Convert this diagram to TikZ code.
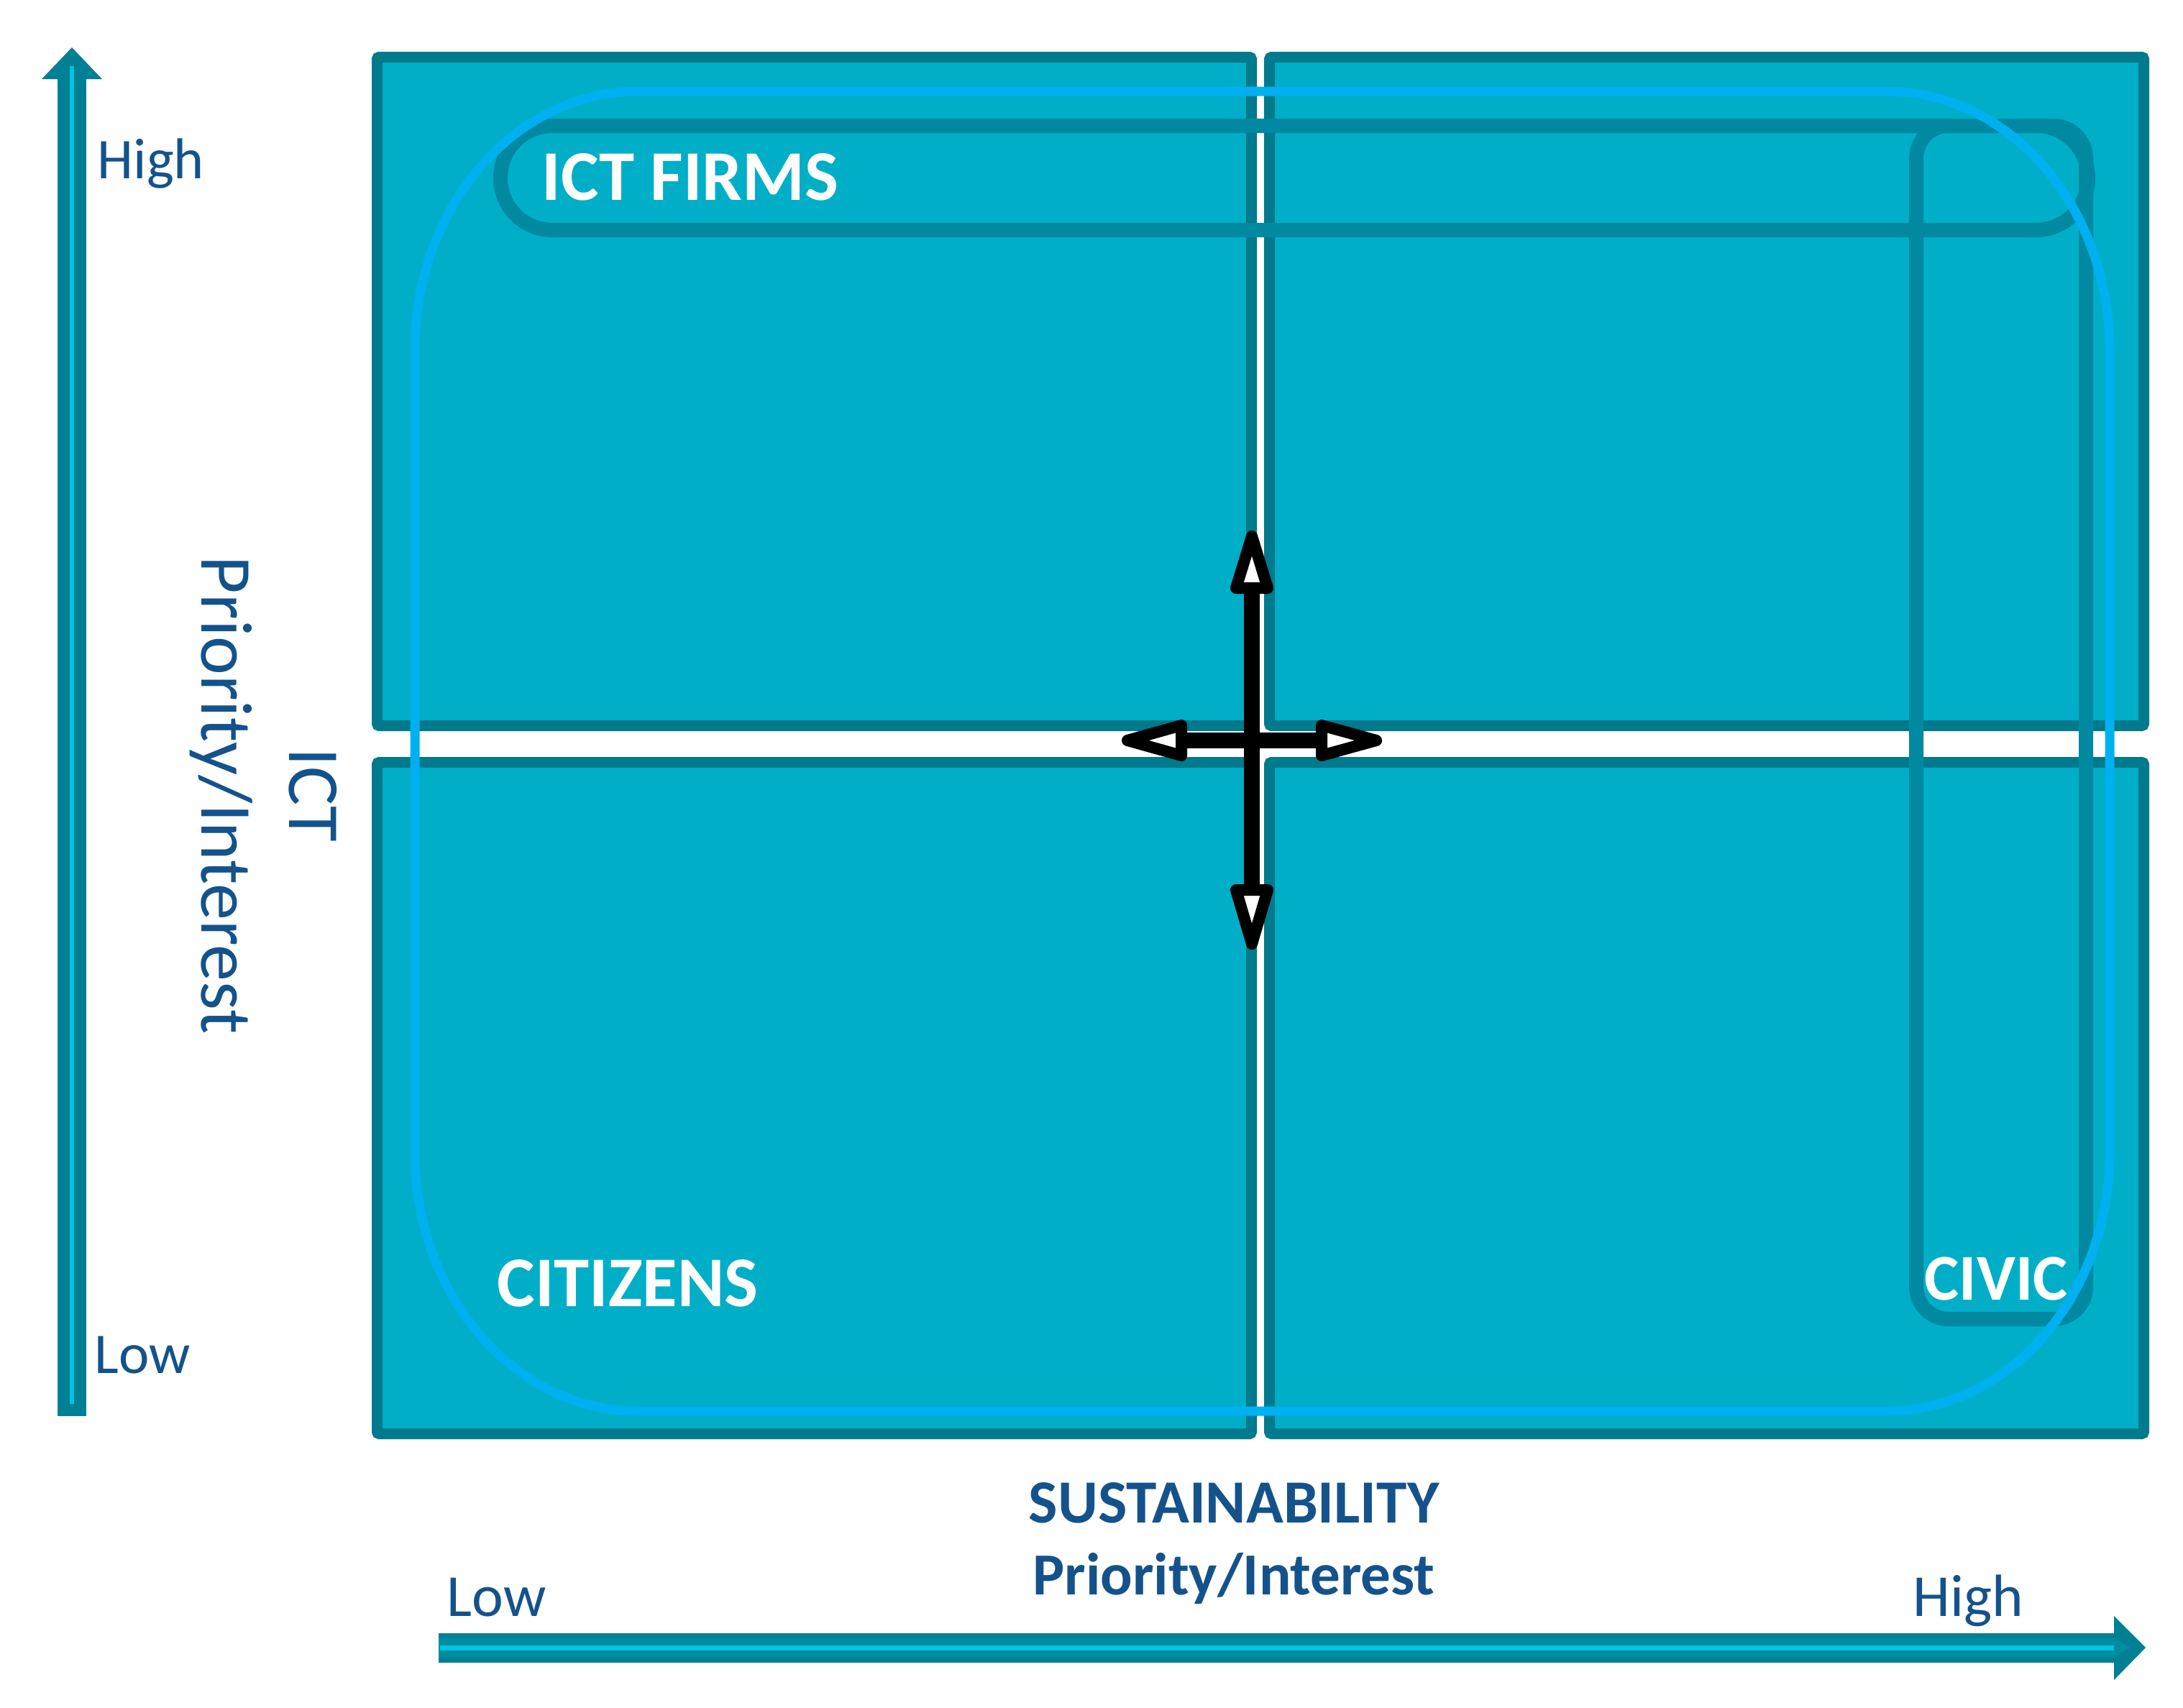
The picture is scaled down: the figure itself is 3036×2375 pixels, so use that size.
\documentclass[tikz,border=0pt]{standalone}
\usepackage{fontspec}
\setmainfont{Carlito}
\definecolor{qfill}{RGB}{0,174,199}
\definecolor{qborder}{RGB}{0,122,140}
\definecolor{grp}{RGB}{0,137,160}
\definecolor{bluecurve}{RGB}{0,176,240}
\definecolor{axdark}{RGB}{0,128,148}
\definecolor{axmid}{RGB}{0,141,162}
\definecolor{axlight}{RGB}{0,196,226}
\definecolor{txtblue}{RGB}{20,82,140}
\tikzset{
  quad/.style={fill=qfill, draw=qborder, line width=0.15cm, rounded corners=0.03cm},
  grpbox/.style={draw=grp, line width=0.2cm},
  bigloop/.style={draw=bluecurve, line width=0.13cm},
  whitelab/.style={text=white, font=\bfseries\fontsize{28.2pt}{34pt}\selectfont, inner sep=0pt},
  axlab/.style={text=txtblue, inner sep=0pt},
  crossshaft/.style={draw=black, line width=0.22cm},
  crosshead/.style={draw=black, fill=white, line width=0.16cm, line join=round},
}
\begin{document}
\begin{tikzpicture}[x=0.01cm,y=-0.01cm]
\useasboundingbox (0,0) rectangle (3036,2375);
% quadrants
\draw[quad] (524.5,79.5) rectangle (1740.5,1009.5);
\draw[quad] (1765.5,79.5) rectangle (2981.5,1009.5);
\draw[quad] (524.5,1060.5) rectangle (1740.5,1994.5);
\draw[quad] (1765.5,1060.5) rectangle (2981.5,1994.5);
% group outlines
\draw[grpbox, rounded corners=0.72cm] (696,175) rectangle (2904,320);
\draw[grpbox, rounded corners=0.45cm] (2665,175) rectangle (2901,1835);
% big blue loop (elliptical corners rx=310, ry=360)
\draw[bigloop] (887,127) -- (2624,127)
  .. controls (2795,127) and (2934,288) .. (2934,487)
  -- (2934,1603)
  .. controls (2934,1802) and (2795,1963) .. (2624,1963)
  -- (887,1963)
  .. controls (716,1963) and (577,1802) .. (577,1603)
  -- (577,487)
  .. controls (577,288) and (716,127) .. (887,127) -- cycle;
% quadrant labels
\node[whitelab, anchor=base west] (ictfirms) at (753,278) {ICT FIRMS};
\node[whitelab, anchor=base west] (citizens) at (691,1817) {CITIZENS};
\node[whitelab, anchor=base west, font=\bfseries\fontsize{25.9pt}{31pt}\selectfont] (civic) at (2676,1808) {CIVIC};
% vertical axis arrow
\coordinate (vbot) at (100,1970);
\coordinate (vtip) at (100,66);
\fill[axdark] (80,1970) rectangle (120,108);
\fill[axdark] (58,110) -- (vtip) -- (142,110) -- cycle;
\fill[axlight] (97,1953) rectangle (103,92);
% horizontal axis arrow
\coordinate (hleft) at (610,2292);
\coordinate (htip) at (2984,2292);
\fill[axdark] (610,2272) rectangle (2942,2313);
\fill[axmid] (610,2279) rectangle (2942,2306);
\fill[axlight] (612,2289) rectangle (2950,2296);
\fill[axdark] (2940,2248) -- (htip) -- (2940,2337) -- cycle;
\fill[axmid] (2940,2279) -- (2962,2292) -- (2940,2306) -- cycle;
% axis labels
\node[axlab, anchor=base west, font=\fontsize{22.8pt}{27pt}\selectfont] (vhigh) at (135,248) {High};
\node[axlab, anchor=base west, font=\fontsize{22.8pt}{27pt}\selectfont] (vlow) at (131,1910) {Low};
\node[axlab, anchor=base west, font=\fontsize{23.6pt}{28pt}\selectfont] (hlow) at (621,2248) {Low};
\node[axlab, anchor=base west, font=\fontsize{23.6pt}{28pt}\selectfont] (hhigh) at (2660,2248) {High};
\node[axlab, anchor=base, font=\bfseries\fontsize{24.3pt}{29pt}\selectfont] (sust) at (1716,2118) {SUSTAINABILITY};
\node[axlab, anchor=base, font=\bfseries\fontsize{23.6pt}{28pt}\selectfont] (sustpi) at (1716,2218) {Priority/Interest};
\node[axlab, anchor=base, rotate=-90, font=\fontsize{29pt}{35pt}\selectfont] (ict) at (402,1106) {ICT};
\node[axlab, anchor=base, rotate=-90, font=\fontsize{29pt}{35pt}\selectfont] (ictpi) at (280,1106) {Priority/Interest};
% central cross arrows
\coordinate (cc) at (1741,1030);
\coordinate (upbase) at (1741,818);
\coordinate (uptip) at (1741,746);
\coordinate (dnbase) at (1741,1238);
\coordinate (dntip) at (1741,1313);
\coordinate (lfbase) at (1643,1030);
\coordinate (lftip) at (1568,1030);
\coordinate (rtbase) at (1838,1030);
\coordinate (rttip) at (1914,1030);
\draw[crossshaft] (upbase) -- (dnbase);
\draw[crossshaft] (lfbase) -- (rtbase);
\draw[crosshead] (uptip) -- (1719,818) -- (1763,818) -- cycle;
\draw[crosshead] (dntip) -- (1719,1238) -- (1763,1238) -- cycle;
\draw[crosshead] (lftip) -- (1643,1009) -- (1643,1051) -- cycle;
\draw[crosshead] (rttip) -- (1838,1009) -- (1838,1051) -- cycle;
\end{tikzpicture}
\end{document}
